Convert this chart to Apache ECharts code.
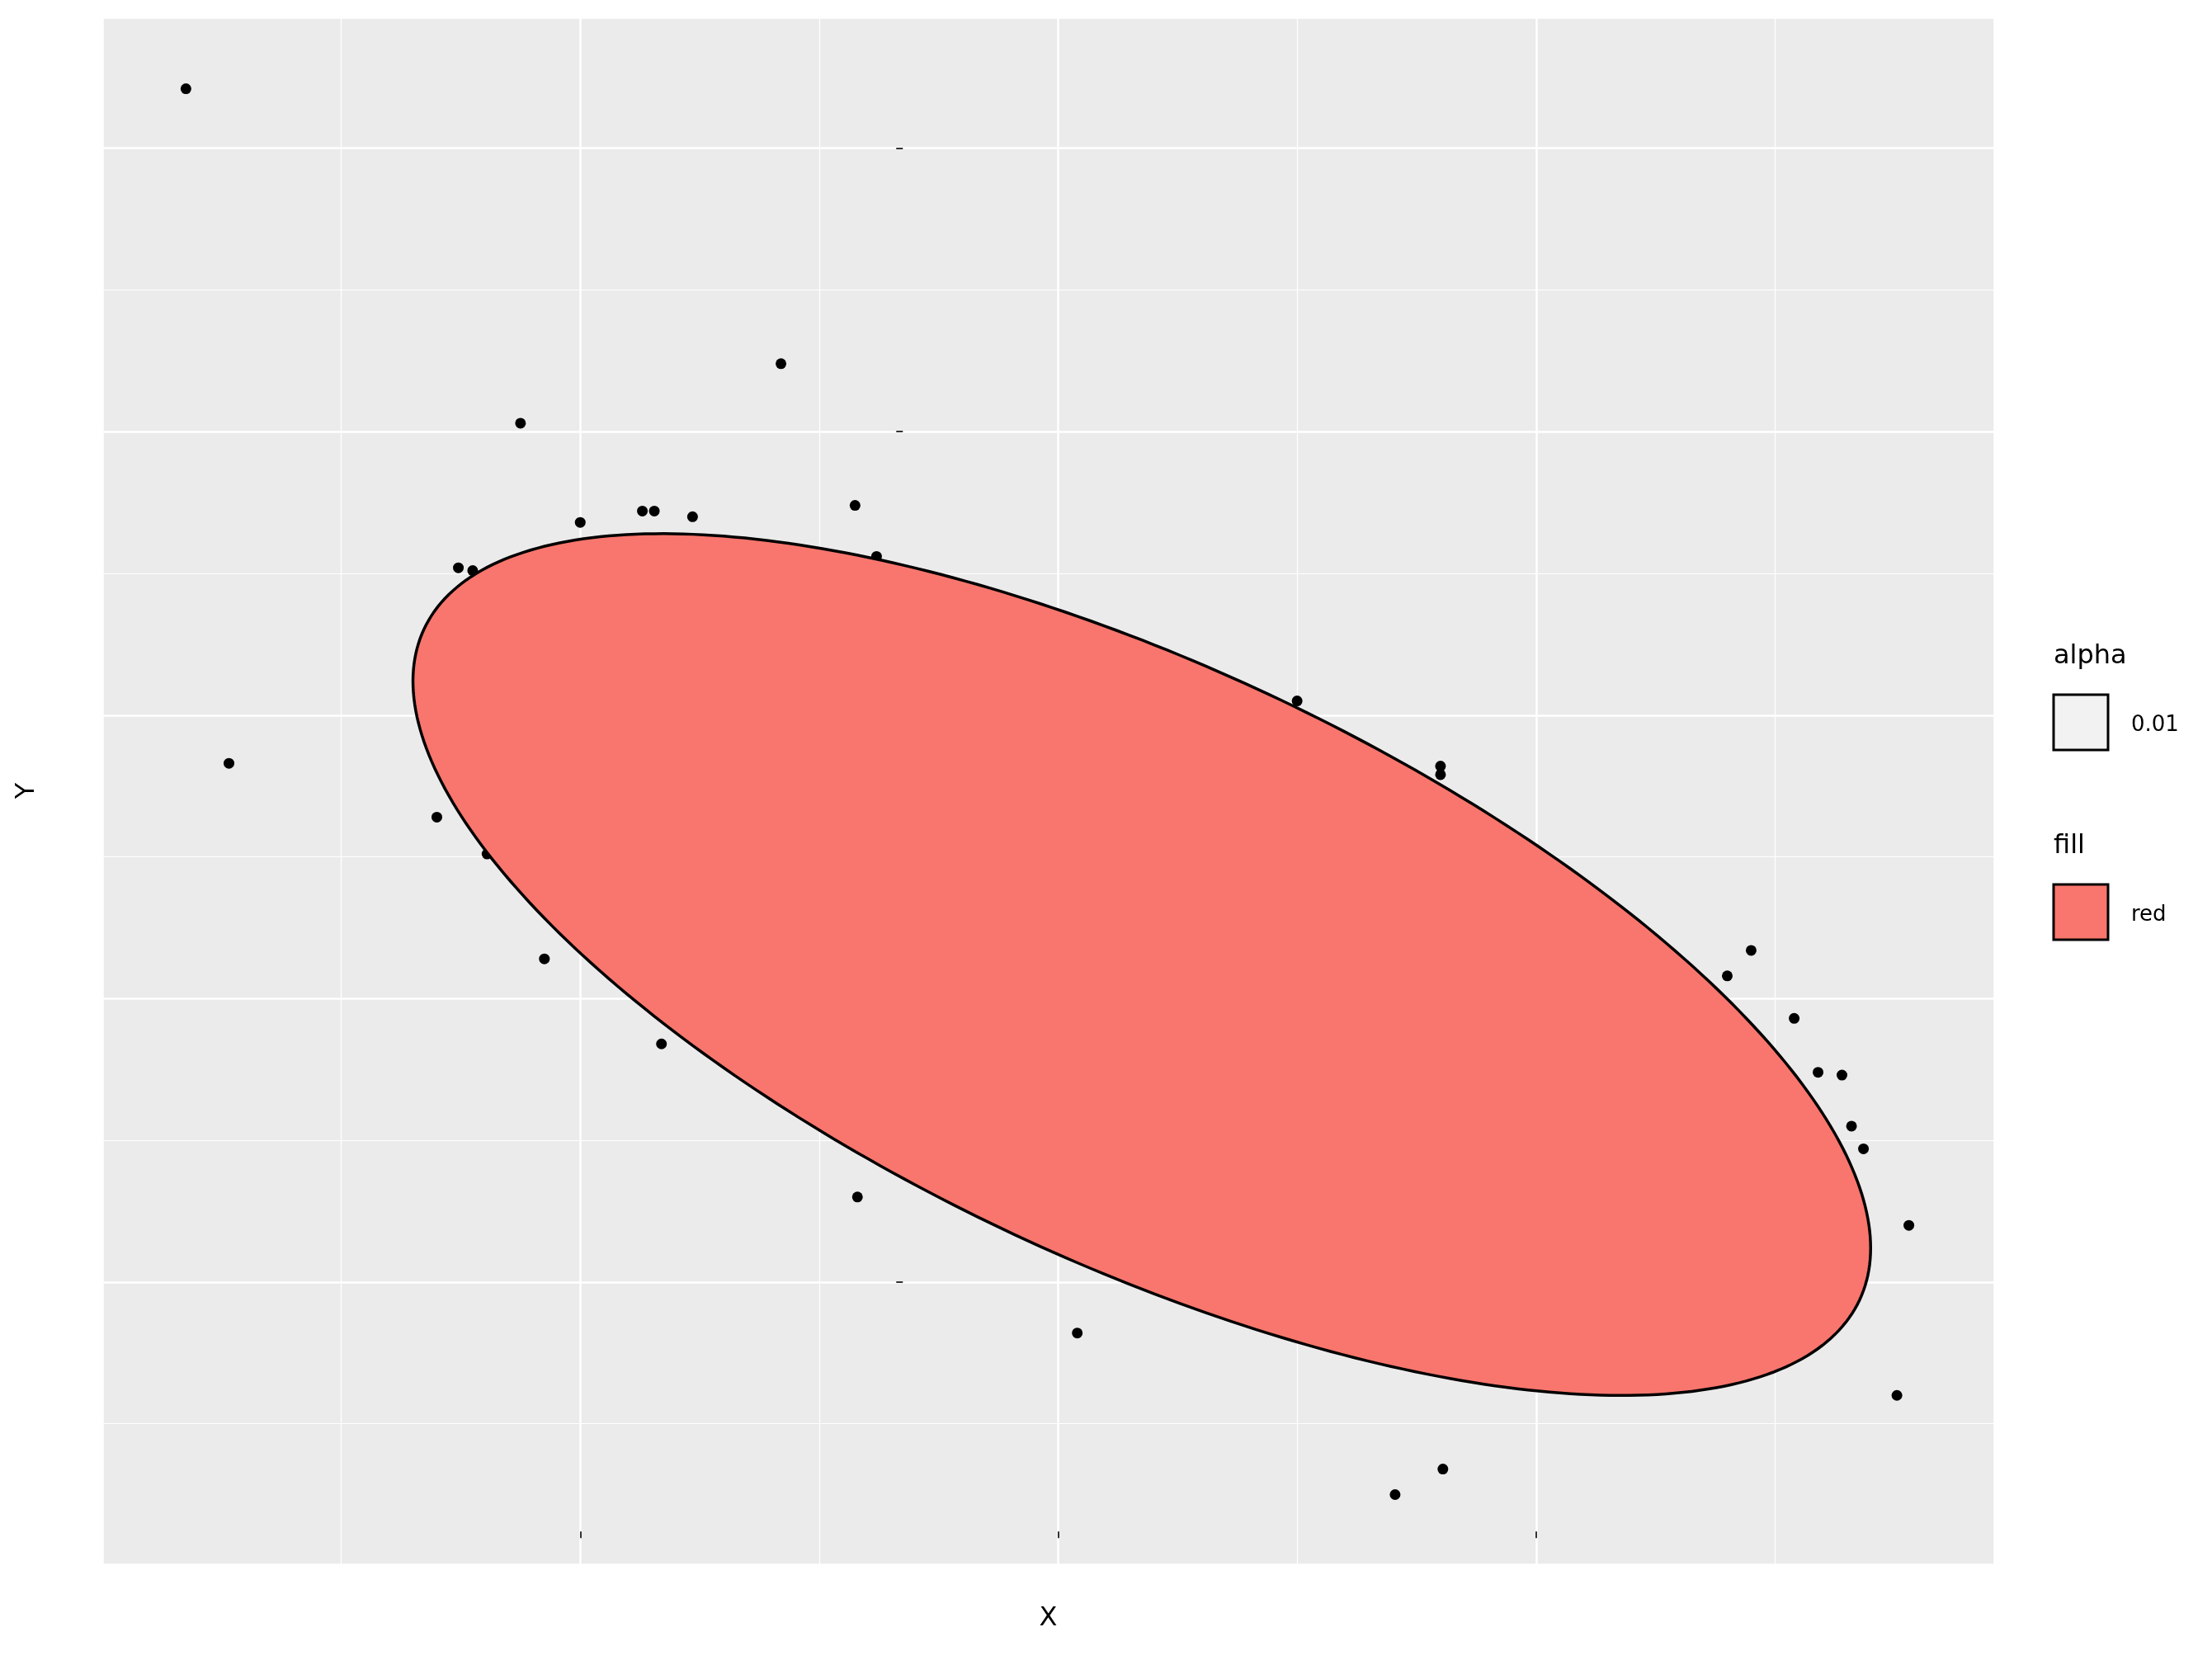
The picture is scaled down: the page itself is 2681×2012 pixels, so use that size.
<!DOCTYPE html>
<html>
<head>
<meta charset="utf-8">
<script src="https://cdn.jsdelivr.net/npm/echarts@6/dist/echarts.min.js"></script>
<style>html,body{margin:0;padding:0;background:#fff}#main{width:2681px;height:2012px}</style>
</head>
<body>
<div id="main"></div>
<script>
// visible points (x, y)
var pointsX = [-3.0, -2.82, -1.95, -1.86, -1.80, -1.74, -1.60, -1.50, -1.35, -1.09, -1.04, -1.01, -0.88, -0.51, -0.20, -0.19, -0.11, 0.73, 1.65, 2.06, 2.25, 2.25, 2.26, 3.45, 3.55, 3.73, 3.83, 3.93, 3.97, 4.02, 4.16, 4.21];
var pointsY = [5.09, 2.71, 2.52, 3.40, 3.39, 2.39, 3.91, 2.02, 3.56, 3.60, 3.60, 1.72, 3.58, 4.12, 3.62, 1.18, 3.44, 0.70, 2.93, 0.13, 2.70, 2.67, 0.22, 1.96, 2.05, 1.81, 1.62, 1.61, 1.43, 1.35, 0.48, 1.08];
// ellipse: centre and parametric axes
var ellipseCenter = [1.0, 2.0];
var ellipseA = [3.05, 0];      // x = cx + A0*cos t + A1*sin t
var ellipseB = [-1.0, 1.145];  // y = cy + B0*cos t + B1*sin t

var pts = pointsX.map(function (x, i) { return [x, pointsY[i]]; });

var chart = echarts.init(document.getElementById('main'));
var tickLabel = {color: '#4D4D4D', fontSize: 22, fontFamily: 'DejaVu Sans', margin: 14};
chart.setOption({
    animation: false,
    grid: {left: 124, right: 264, top: 21, bottom: 116, show: true, backgroundColor: '#EBEBEB', borderWidth: 0},
    xAxis: {
        type: 'value', min: -3.35, max: 4.567, interval: 2,
        axisLabel: Object.assign({formatter: function (v) { return Number.isInteger(v) && v % 2 === 0 ? v : ''; }, showMinLabel: false, showMaxLabel: false}, tickLabel),
        axisLine: {show: false},
        axisTick: {show: true, length: 8, lineStyle: {color: '#333', width: 2}},
        splitLine: {lineStyle: {color: '#fff', width: 2.5}},
        minorTick: {show: false, splitNumber: 2},
        minorSplitLine: {show: true, lineStyle: {color: '#fff', width: 1.2}},
        name: 'X', nameLocation: 'middle', nameGap: 50,
        nameTextStyle: {fontSize: 32, color: '#000', fontFamily: 'DejaVu Sans'}
    },
    yAxis: {
        type: 'value', min: -0.116, max: 5.342, interval: 1,
        axisLabel: Object.assign({formatter: function (v) { return Number.isInteger(v) ? v : ''; }, showMinLabel: false, showMaxLabel: false}, tickLabel),
        axisLine: {show: false},
        axisTick: {show: true, length: 8, lineStyle: {color: '#333', width: 2}},
        splitLine: {lineStyle: {color: '#fff', width: 2.5}},
        minorTick: {show: false, splitNumber: 2},
        minorSplitLine: {show: true, lineStyle: {color: '#fff', width: 1.2}},
        name: 'Y', nameLocation: 'middle', nameGap: 75,
        nameTextStyle: {fontSize: 32, color: '#000', fontFamily: 'DejaVu Sans'}
    },
    series: [
        {
            type: 'scatter', data: pts, symbolSize: 13, z: 2,
            itemStyle: {color: '#000', opacity: 1}
        },
        {
            type: 'custom', data: [[ellipseCenter[0], ellipseCenter[1]]], z: 3,
            renderItem: function (params, api) {
                var poly = [];
                for (var k = 0; k < 360; k++) {
                    var t = k * Math.PI / 180;
                    poly.push(api.coord([
                        ellipseCenter[0] + ellipseA[0] * Math.cos(t) + ellipseA[1] * Math.sin(t),
                        ellipseCenter[1] + ellipseB[0] * Math.cos(t) + ellipseB[1] * Math.sin(t)
                    ]));
                }
                return {type: 'polygon', shape: {points: poly},
                    style: {fill: '#F8766D', stroke: '#000', lineWidth: 3.5}};
            }
        }
    ],
    graphic: [
        {type: 'text', left: 2489, top: 780, style: {text: 'alpha', fontSize: 32, fill: '#000', fontFamily: 'DejaVu Sans'}},
        {type: 'rect', shape: {x: 2489, y: 842, width: 66, height: 67}, style: {fill: '#F2F2F2', stroke: '#000', lineWidth: 3}},
        {type: 'text', left: 2583, top: 866, style: {text: '0.01', fontSize: 26, fill: '#000', fontFamily: 'DejaVu Sans'}},
        {type: 'text', left: 2489, top: 1010, style: {text: 'fill', fontSize: 32, fill: '#000', fontFamily: 'DejaVu Sans'}},
        {type: 'rect', shape: {x: 2489, y: 1072, width: 66, height: 67}, style: {fill: '#F8766D', stroke: '#000', lineWidth: 3}},
        {type: 'text', left: 2583, top: 1096, style: {text: 'red', fontSize: 26, fill: '#000', fontFamily: 'DejaVu Sans'}}
    ]
});
</script>
</body>
</html>
